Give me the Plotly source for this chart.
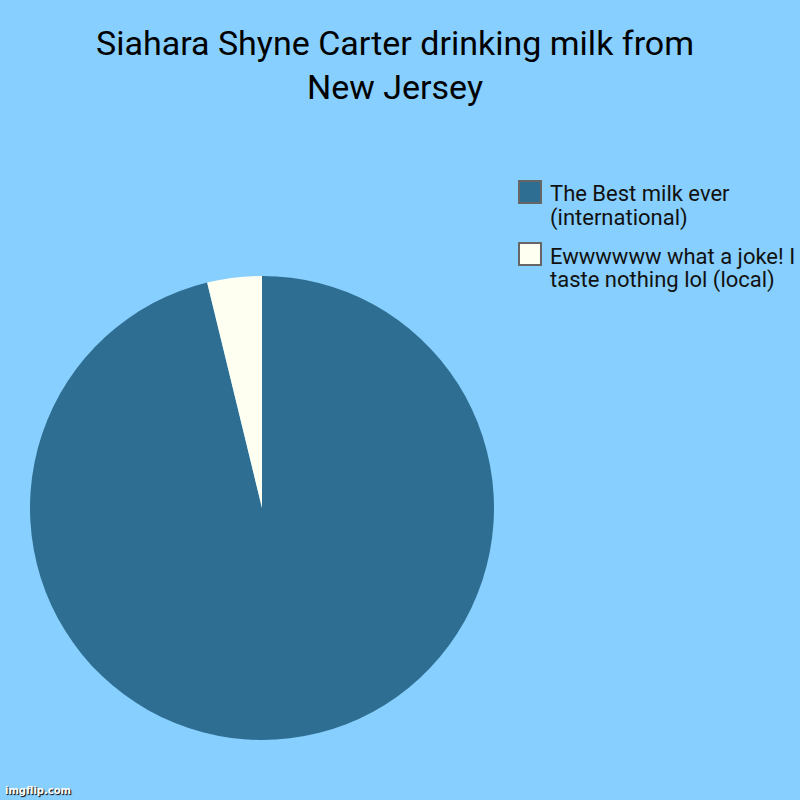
import plotly.graph_objects as go

titulo = "Siahara Shyne Carter drinking milk from<br>New Jersey"
labels = ["The Best milk ever (international)", "Ewwwwww what a joke! I taste nothing lol (local)"]
legend_lines = [["The Best milk ever", "(international)"], ["Ewwwwww what a joke! I", "taste nothing lol (local)"]]
values = [96.2, 3.8]
colores = ["#2e6e92", "#fefff0"]

BG = "#87cffe"

fig = go.Figure()

fig.add_trace(go.Pie(
    labels=labels,
    values=values,
    sort=False,
    direction="clockwise",
    rotation=0,
    marker=dict(colors=colores, line=dict(width=0)),
    textinfo="none",
    hoverinfo="label+percent",
    showlegend=False,
    domain=dict(x=[30 / 800, 494 / 800], y=[60 / 800, 524 / 800]),
))

# leyenda hecha a mano (cuadrados grandes con borde gris, interlineado apretado)
for i, (lineas, col) in enumerate(zip(legend_lines, colores)):
    top = 181 + i * 62
    fig.add_shape(type="rect", xref="paper", yref="paper",
                  x0=519 / 800, x1=541 / 800, y0=1 - (top + 22) / 800, y1=1 - top / 800,
                  fillcolor=col, line=dict(color="#666666", width=2))
    for j, linea in enumerate(lineas):
        fig.add_annotation(text=linea, xref="paper", yref="paper",
                           x=548 / 800, y=1 - (top + 13 + j * 24) / 800, xanchor="left", yanchor="middle",
                           align="left", showarrow=False,
                           font=dict(family="Roboto", size=22, color="#111111"))

fig.add_annotation(text="<b>imgflip.com</b>", xref="paper", yref="paper",
                   x=3 / 800, y=2 / 800, xanchor="left", yanchor="bottom", showarrow=False,
                   font=dict(family="DejaVu Sans", size=10, color="white", shadow="1px 1px 1px black"))

fig.update_layout(
    title=dict(text=titulo, x=395 / 800, xanchor="center", y=1 - 55 / 800, yanchor="top",
               font=dict(family="Roboto", size=34, color="black")),
    width=800,
    height=800,
    margin=dict(l=0, r=0, t=0, b=0),
    paper_bgcolor=BG,
    plot_bgcolor=BG,
)

fig.write_html("out.html", config=dict(displayModeBar=False),
               post_script="document.body.style.margin='0';document.body.style.background='%s';" % BG)
